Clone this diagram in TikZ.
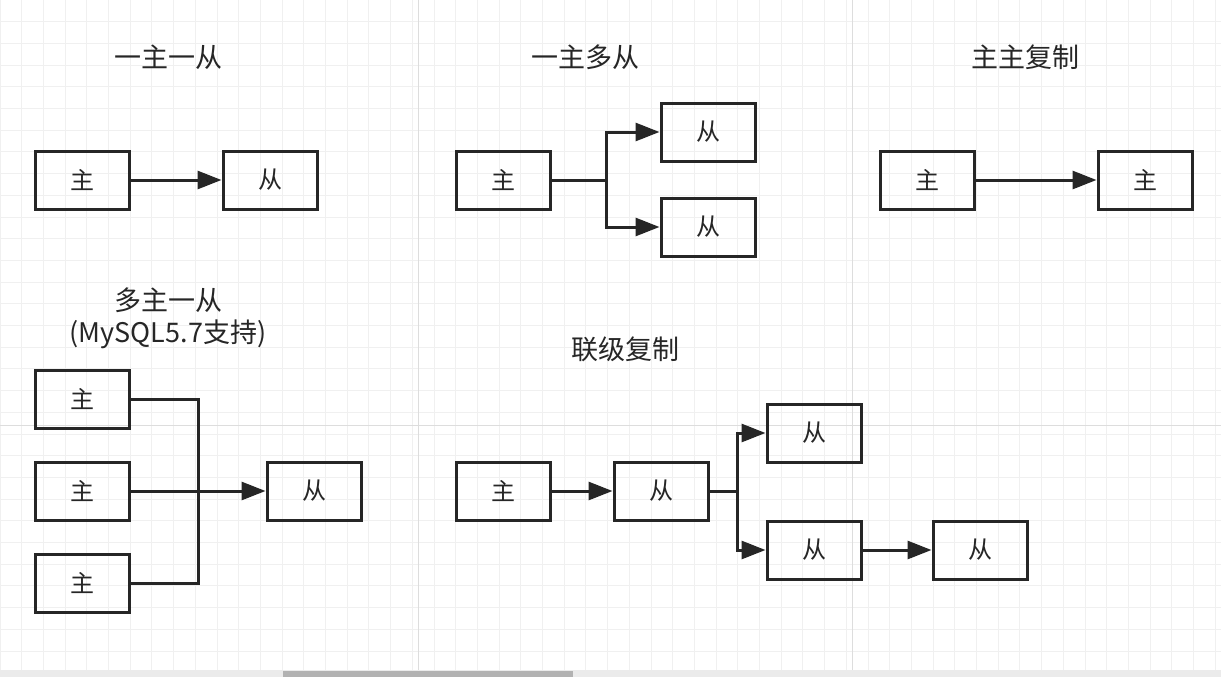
\documentclass[tikz,border=0pt]{standalone}
\usepackage{fontspec}
\setmainfont{Noto Sans CJK SC}
\usetikzlibrary{arrows.meta}
\definecolor{ink}{HTML}{262626}
\definecolor{minor}{HTML}{F0F0F0}
\definecolor{major}{HTML}{DDDDDD}
\tikzset{
  box/.style={draw=ink,line width=3pt,minimum width=94pt,minimum height=58pt,inner sep=0pt,font=\fontsize{24}{28}\selectfont,text=ink},
  ttl/.style={font=\fontsize{27}{32}\selectfont,text=ink,align=center},
  ln/.style={draw=ink,line width=3pt},
  arr/.style={ln,-{Triangle[length=24pt,width=18pt]}}
}
\begin{document}
\begin{tikzpicture}[x=1pt,y=-1pt]
\useasboundingbox (0,0) rectangle (1221,677);
\fill[white] (0,0) rectangle (1221,677);
% grid
\foreach \i in {0,...,56}{\draw[minor,line width=1pt] ({\i*21.7},0) -- ({\i*21.7},670);}
\foreach \i in {0,...,31}{\draw[minor,line width=1pt] (0,{\i*21.7}) -- (1221,{\i*21.7});}
\foreach \x in {418,852}{\draw[major,line width=1pt] (\x,0) -- (\x,670);}
\draw[major,line width=1pt] (0,425) -- (1221,425);
% scrollbar
\fill[black!8] (0,670) rectangle (1221,677);
\fill[black!30] (283,671) rectangle (573,677);

% 一主一从
\node[ttl] at (168,57) {一主一从};
\node[box] (a1) at (82,180) {主};
\node[box] (a2) at (270,180) {从};
\draw[arr] (a1) -- (a2);

% 一主多从
\node[ttl] at (585,57) {一主多从};
\node[box] (b0) at (503,180) {主};
\node[box] (b1) at (708,132) {从};
\node[box] (b2) at (708,227) {从};
\coordinate (bj) at (606,180);
\draw[ln] (b0.east) -- (bj);
\draw[arr] (bj) |- (b1.west);
\draw[arr] (bj) |- (b2.west);

% 主主复制
\node[ttl] at (1025,57) {主主复制};
\node[box] (c1) at (927,180) {主};
\node[box] (c2) at (1145,180) {主};
\draw[arr] (c1) -- (c2);

% 多主一从
\node[ttl] at (168,318) {多主一从\\(MySQL5.7支持)};
\node[box] (d1) at (82,399) {主};
\node[box] (d2) at (82,491) {主};
\node[box] (d3) at (82,583) {主};
\node[box] (d4) at (314,491) {从};
\coordinate (dj) at (198,491);
\draw[ln] (d1.east) -| (dj);
\draw[ln] (d3.east) -| (dj);
\draw[arr] (d2.east) -- (d4.west);

% 联级复制
\node[ttl] at (625,349) {联级复制};
\node[box] (e0) at (503,491) {主};
\node[box] (e1) at (661,491) {从};
\node[box] (e2) at (814,433) {从};
\node[box] (e3) at (814,550) {从};
\node[box] (e4) at (980,550) {从};
\coordinate (ej) at (737,491);
\draw[arr] (e0) -- (e1);
\draw[ln] (e1.east) -- (ej);
\draw[arr] (ej) |- (e2.west);
\draw[arr] (ej) |- (e3.west);
\draw[arr] (e3) -- (e4);
\end{tikzpicture}
\end{document}
